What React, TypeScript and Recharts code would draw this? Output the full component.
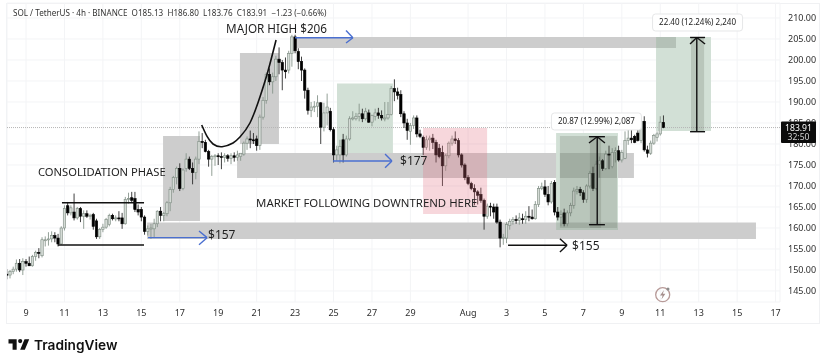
import { Bar, CartesianGrid, ComposedChart, Line, ReferenceArea, ReferenceDot, ReferenceLine, XAxis, YAxis } from 'recharts';

const FONT = '"Noto Sans", sans-serif';

// 4h candles, one row per bar: open, high, low, close
const earlyClimb = [
  [149, 150.2, 147.8, 148.8], [148.8, 150, 148, 149.6], [149.6, 150.8, 149, 150.2], [150.2, 152.5, 149.6, 151.6],
  [151.6, 152.6, 149.5, 150], [150, 152.8, 148.8, 152], [152, 152.6, 150.8, 151.6], [151.6, 153.2, 151, 151],
  [151, 153.6, 150.8, 153.2], [153.2, 154.6, 152.2, 154.2], [154.2, 155.2, 152.8, 154], [153.4, 157.8, 153, 157.2],
  [157.2, 158, 155.6, 157.2], [157.2, 159, 155.8, 157.4], [157.4, 159.2, 156.6, 158.2], [158.2, 159, 156.6, 157.6],
  [157.6, 158.6, 155.6, 156.2], [156.2, 160.4, 156, 160],
];
const consolidation = [
  [160, 165.4, 159.4, 164.6], [165.3, 166.2, 163, 163.6], [163.6, 165.4, 163, 164.8], [163.8, 168.2, 161.8, 162.4],
  [162.4, 165, 162, 164.6], [164.6, 165, 161.4, 162.8], [162.8, 164.2, 159.8, 163.4], [163.4, 164.2, 162.4, 162.8],
  [162.8, 163.4, 162, 163], [163.2, 163.6, 159.6, 160.4], [161.7, 162.2, 157.4, 157.9], [157.9, 160, 157.4, 159.6],
  [159.6, 161, 159, 160.2], [160.2, 162.4, 159.8, 162], [160.8, 163.4, 160.4, 163], [163, 163.4, 161.8, 162.2],
  [162.2, 163, 161.6, 162.4], [162.4, 164, 161.6, 162.2], [162.4, 163.6, 159.8, 161], [161, 167.4, 160.8, 166.8],
  [166.8, 168.4, 165.8, 167], [167.2, 168.6, 166, 166.6], [167, 168.6, 163.8, 164.4], [164.4, 165.6, 163, 163.8],
  [164.4, 165, 161.6, 162.6], [162.6, 163, 158.4, 159.2],
];
const rallyOne = [
  [159.2, 160.6, 158.2, 159.8], [159.8, 161, 157.4, 160], [159.8, 162.2, 157.6, 161], [161, 164.2, 160.2, 164],
  [164, 165, 161.6, 163], [163, 163.8, 161.6, 163.4], [163.4, 166.4, 162.8, 166], [166, 169.8, 164, 169.2],
  [169.2, 172.4, 168.4, 172], [172, 174.6, 170.4, 174.2], [174.2, 175.4, 168.8, 169.4], [169.4, 174.2, 169, 173.8],
  [174.2, 177.8, 173.4, 176.4], [176.4, 177, 173.8, 174.2], [174.2, 175.6, 170.4, 173.2], [173.2, 177, 171.6, 176.4],
  [176.4, 183, 175.2, 180.6], [180.6, 182.6, 179, 180.4], [180.4, 181, 178, 178.2], [178.2, 178.6, 174.6, 176.4],
];
const baseNear177 = [
  [176.4, 177.4, 172.4, 177], [177, 177.6, 174.8, 177.2], [177.2, 177.8, 175, 177], [177, 178, 174, 176.8],
  [176.8, 177.8, 175.6, 177.2], [177.2, 177.6, 175.8, 176.6], [176.6, 177.8, 175.2, 177.2], [177.2, 178, 175.8, 176.8],
  [176.8, 178.4, 176, 177.4], [177, 177.8, 176, 177.8],
];
const rallyToHigh = [
  [177.6, 180.6, 177.2, 180.2], [180.2, 181.8, 178.6, 181.2], [181.2, 183.2, 179, 181], [181, 182.6, 180, 180.8],
  [181.2, 182, 178.4, 179.6], [179.6, 187, 178.6, 186.4], [186.4, 191.2, 185.8, 190.4], [190.4, 197, 189.6, 196.6],
  [196.6, 198, 194, 194.8], [194.8, 197, 192, 196], [196, 201, 195, 200.2], [200.2, 203, 196.6, 199.4],
  [199.4, 200, 192.8, 197.6], [197.6, 200.6, 195.6, 197.2], [197.6, 202.2, 196.8, 201.6], [201.6, 206, 198.4, 205.5],
];
const dropFromHigh = [
  [205.5, 206, 201.6, 202.2], [202, 202.8, 197.8, 199.6], [199.6, 200.8, 195, 197.6], [197.6, 198, 190.8, 192.8],
  [192.8, 193.4, 187, 188], [188, 190, 186.4, 188.8], [188.8, 190.2, 187.6, 189], [189, 191.6, 186.4, 189.8],
  [189.8, 190, 180, 184], [184, 189.8, 183, 187.4], [187.4, 192, 184.4, 188.8], [187.8, 188.6, 183, 183.4],
  [183.4, 184, 175.6, 177.4],
];
const bounceRange = [
  [177.4, 179.6, 176, 178.6], [177.4, 181, 175.4, 179.4], [181, 182.4, 175.6, 177.4], [177.4, 182, 177, 181.2],
  [181.2, 186.6, 180.8, 186], [186, 187.8, 185.6, 186.2], [186, 187.4, 185.6, 186.6], [186.6, 189.6, 185.4, 187.2],
  [187.2, 188.4, 185.2, 186], [186, 188.6, 185.6, 187.8], [187.4, 188.2, 185, 185.2], [185.2, 187, 184.2, 186.8],
  [186.6, 188.4, 185.6, 187.4], [187.4, 188.6, 186, 186.8], [186.8, 188, 185.6, 186.2], [186.2, 190, 185.4, 186.2],
  [186.2, 190, 185.8, 187], [187, 193.8, 186.8, 193.2], [193.2, 195.4, 190.2, 192.4],
];
const downtrend = [
  [192.4, 193.4, 190.6, 191.6], [191.8, 192.8, 186.4, 187.2], [187.2, 187.8, 183.8, 185], [185, 186, 181, 183.2],
  [183, 185, 179.8, 184.4], [184.4, 186.8, 183.6, 186.2], [186.2, 186.8, 181.6, 182.4], [182.4, 183.4, 181.4, 181.8],
  [181.6, 182, 177.4, 179.2], [179.2, 182, 178.6, 181], [181, 182, 178.4, 181.4], [181.4, 182.4, 178.8, 180.4],
  [180.4, 181, 175.6, 177.4], [179, 180, 176.6, 177], [178, 179.6, 170, 174.8], [174.8, 177.6, 173.6, 177.2],
  [177.2, 180.6, 176.6, 180.2], [180.2, 182, 179.6, 181.2], [181.2, 183, 180, 180.8], [180.8, 181.4, 176.8, 177.4],
  [177.4, 177.8, 174.4, 175], [175, 175.4, 171.4, 172], [172, 172.6, 170.2, 170.6], [170.6, 171, 169, 169.4],
  [169.4, 170.4, 165.4, 168.6], [168.6, 169, 165.6, 167.8], [168, 169.6, 166, 166.6], [166.6, 167, 159.6, 162.8],
  [162.8, 165.8, 162.2, 165.2], [165.2, 166, 162.8, 165], [165, 165.8, 162.2, 163.8], [165, 165.8, 161, 161.4],
  [161.4, 162, 155.4, 157.6],
];
const recovery = [
  [157.6, 158.6, 156, 157.8], [157.6, 161.4, 156.4, 160.8], [160.6, 162.2, 159.6, 161.6], [161.6, 162.6, 160.8, 162],
  [162, 163, 161, 161.8], [161.8, 163.6, 160.8, 162.4], [162.2, 163.4, 161, 162], [162, 164, 161, 162.8],
  [162.8, 165.2, 161.6, 162.6], [162.6, 164.4, 162, 162.2], [162.2, 166.4, 162, 165.6], [165.6, 170, 165, 169.4],
  [169.4, 170.8, 169, 169.8], [169.8, 171.4, 167.4, 168], [168, 170, 165.4, 166.2], [166.2, 171.2, 165.8, 170.6],
  [170.8, 171.4, 163, 163.8], [163.8, 165, 161.8, 162.6], [162.6, 164.2, 160.4, 163.2], [163.6, 164.6, 160.4, 161],
  [161, 164.2, 160.4, 163.6], [163.6, 166, 162.8, 165.4], [165.4, 169.6, 164.6, 168.8], [168.8, 170, 168, 169.2],
  [169.2, 169.8, 167.6, 168.4], [168.4, 169, 166, 166.8], [166.8, 170.4, 166, 170], [170, 173.6, 169.4, 173],
  [173, 174.6, 168.8, 169.4], [169.4, 176, 169, 175.2], [175.2, 177, 172, 176], [176, 176.4, 173.6, 174.2],
  [174.2, 178.4, 173.8, 177.6], [177.6, 179.6, 174, 177.4], [174.6, 179, 174.2, 178], [178, 179.2, 175.6, 178.4],
  [178.4, 179.6, 175.8, 176.2], [176.2, 178.6, 175.6, 178], [176.6, 183, 176.4, 180.8], [180.8, 184.4, 179.8, 181.4],
  [181.4, 184, 180.2, 181], [181.8, 182.2, 180.2, 180.4], [182.6, 184.6, 180.6, 180.8], [180.8, 186.4, 180.2, 185.4],
  [185.4, 186.6, 178.2, 178.6], [178.6, 179.6, 176.8, 177.8], [177.8, 180.8, 177.4, 180.2], [180.2, 182.4, 179.8, 182],
  [181.6, 183, 180.6, 182.4], [182.4, 186.6, 182, 185.2], [185.13, 186.8, 183.76, 183.91],
];

const allCandles = [
  ...earlyClimb, ...consolidation, ...rallyOne, ...baseNear177, ...rallyToHigh,
  ...dropFromHigh, ...bounceRange, ...downtrend, ...recovery,
];

// x is a running day number: July dates as they are, Aug 1 = 32
const firstDay = 8;
const candleData = allCandles.map(([open, high, low, close], i) => ({
  day: firstDay + i / 6,
  open, high, low, close,
  range: [low, high],
}));

const dayTicks = [9, 11, 13, 15, 17, 19, 21, 23, 25, 27, 29, 32, 34, 36, 38, 40, 42, 44, 46, 48];
const priceTicks = [145, 150, 155, 160, 165, 170, 175, 180, 185, 190, 195, 200, 205, 210];
const lastPrice = 183.91;

// zones: [day from, day to, price low, price high]
const grayZones = [
  [16.13, 18.05, 161.67, 181.9],
  [20.13, 22.16, 180, 201.67],
  [22.99, 42.82, 202.86, 205.48],
  [19.98, 40.63, 171.9, 177.86],
  [15.3, 46.98, 157.4, 161.3],
];
const greenZones = [
  [25.18, 28.09, 177.86, 194.4],
  [36.58, 39.8, 159.5, 182.6],
  [41.78, 44.64, 183.1, 205.48],
];
const measureShades = [
  [36.78, 39.75, 160, 181.9],
  [38.34, 38.92, 160, 181.9],
  [43.6, 44.28, 183.1, 205.48],
];
// where a gray band runs under a green box
const overlapShades = [
  [36.78, 39.75, 171.9, 177.86],
  [41.78, 42.82, 202.86, 205.48],
  [36.58, 39.8, 159.5, 161.3],
];
const pinkZones = [[29.66, 32.99, 163.33, 183.8]];

// line segments: [day, price, day, price]
const blackSegments = [
  [10.87, 166, 15.14, 166],
  [10.66, 155.95, 15.14, 155.95],
  [34.08, 155.88, 37.15, 155.88], [36.78, 157.45, 37.15, 155.88], [36.78, 154.3, 37.15, 155.88],
  [43.9, 182.93, 43.9, 205.36], [43.55, 182.93, 44.33, 182.93], [43.55, 205.36, 44.33, 205.36],
  [43.55, 203.81, 43.9, 205.36], [44.33, 203.81, 43.9, 205.36],
  [38.72, 160.79, 38.72, 181.74], [38.29, 160.79, 39.12, 160.79], [38.29, 181.74, 39.12, 181.74],
  [38.29, 180.24, 38.72, 181.74], [39.12, 180.24, 38.72, 181.74],
];
const blueSegments = [
  [15.35, 157.7, 18.42, 157.7], [18, 159.3, 18.42, 157.7], [18, 156, 18.42, 157.7],
  [23, 205.3, 26.01, 205.3], [25.65, 207, 26.01, 205.3], [25.65, 204.05, 26.01, 205.3],
  [24.97, 175.95, 28.04, 175.95], [27.68, 177.6, 28.04, 175.95], [27.68, 174.36, 28.04, 175.95],
];
const cupDays = [18.14, 18.42, 18.73, 19.2, 19.77, 20.13, 20.65, 21.17, 21.59, 22.01];
const cupPrices = [184.52, 181.79, 180, 179.36, 180.24, 181.67, 185, 191.19, 197.38, 204.76];
const cupData = cupDays.map((day, i) => ({ day, cup: cupPrices[i] }));

// notes: text, day, price, font size
const notes: [string, number, number, number][] = [
  ['CONSOLIDATION PHASE', 9.62, 172.38, 11.2],
  ['MAJOR HIGH $206', 19.41, 206.43, 11.7],
  ['$157', 18.47, 157.38, 12],
  ['$177', 28.46, 175, 12],
  ['MARKET FOLLOWING DOWNTREND HERE', 20.97, 165, 11.4],
  ['$155', 37.41, 154.76, 12],
];
const callouts: [string, number, number][] = [
  ['22.40 (12.24%) 2,240', 43.94, 208.93],
  ['20.87 (12.99%) 2,087', 38.68, 185.36],
];

const dayLabel = (d: number) => (d === 32 ? 'Aug' : String(d > 32 ? d - 31 : d));

const Candle = (props: any) => {
  const { x, y, width, height, payload } = props;
  const { open, high, low, close } = payload;
  const up = close >= open;
  const unit = Math.abs(height) / (high - low || 1);
  const toY = (p: number) => y + (high - p) * unit;
  const mid = x + width / 2;
  const top = toY(Math.max(open, close));
  const bodyH = Math.max(toY(Math.min(open, close)) - top, 1);
  return (
    <g>
      <line x1={mid} x2={mid} y1={y} y2={y + Math.abs(height)} stroke={up ? '#87958b' : '#2a2a2a'} strokeWidth={0.9} />
      <rect x={mid - 1.2} y={top} width={2.4} height={bodyH} fill={up ? '#d5dbd6' : '#000'} stroke={up ? '#7c8a80' : '#000'} strokeWidth={0.6} />
    </g>
  );
};

export default function App() {
  return (
    <div style={{ position: 'absolute', left: 0, top: 0, width: 825, height: 364, background: '#fff', overflow: 'hidden', filter: 'blur(0.4px)' }}>
      <div style={{ position: 'absolute', left: 6, top: 3, width: 812, height: 319, border: '1px solid #f0f1f3' }} />
      <ComposedChart
        width={825}
        height={364}
        data={candleData}
        margin={{ top: 3, right: 7, bottom: 42, left: 7 }}
        style={{ position: 'absolute', left: 0, top: 0 }}
      >
        <CartesianGrid stroke="#f3f4f6" />
        <XAxis
          dataKey="day"
          type="number"
          domain={[8.01, 48.23]}
          allowDataOverflow
          ticks={dayTicks}
          tickFormatter={dayLabel}
          tick={{ fontSize: 9, fontFamily: FONT, fill: '#2e2e2e' }}
          tickLine={false}
          axisLine={false}
          height={20}
          interval={0}
        />
        <YAxis
          orientation="right"
          type="number"
          domain={[142.38, 213.57]}
          allowDataOverflow
          ticks={priceTicks}
          tickFormatter={(v: number) => v.toFixed(2)}
          tick={{ fontSize: 9, fontFamily: FONT, fill: '#2e2e2e' }}
          tickLine={false}
          axisLine={false}
          width={38}
          interval={0}
        />
        <ReferenceLine y={lastPrice} stroke="#b5b5b5" strokeDasharray="1 1" zIndex={20} />
        {grayZones.map(([x1, x2, y1, y2], i) => (
          <ReferenceArea key={`g${i}`} x1={x1} x2={x2} y1={y1} y2={y2} fill="#cdcdcd" fillOpacity={1} stroke="none" zIndex={10} />
        ))}
        {greenZones.map(([x1, x2, y1, y2], i) => (
          <ReferenceArea key={`z${i}`} x1={x1} x2={x2} y1={y1} y2={y2} fill="#d2e0d6" fillOpacity={1} stroke="none" zIndex={11} />
        ))}
        {overlapShades.map(([x1, x2, y1, y2], i) => (
          <ReferenceArea key={`o${i}`} x1={x1} x2={x2} y1={y1} y2={y2} fill="#6f7a70" fillOpacity={0.3} stroke="none" zIndex={12} />
        ))}
        <Bar dataKey="range" barSize={3} shape={Candle} isAnimationActive={false} zIndex={300} />
        {measureShades.map(([x1, x2, y1, y2], i) => (
          <ReferenceArea key={`m${i}`} x1={x1} x2={x2} y1={y1} y2={y2} fill="#56604f" fillOpacity={0.2} stroke="none" zIndex={320} />
        ))}
        {pinkZones.map(([x1, x2, y1, y2], i) => (
          <ReferenceArea key={`p${i}`} x1={x1} x2={x2} y1={y1} y2={y2} fill="#e16e82" fillOpacity={0.28} stroke="none" zIndex={320} />
        ))}
        {blackSegments.map(([a, b, c, d], i) => (
          <ReferenceLine key={`b${i}`} segment={[{ x: a, y: b }, { x: c, y: d }]} stroke="#111" strokeWidth={1.4} zIndex={400} />
        ))}
        {blueSegments.map(([a, b, c, d], i) => (
          <ReferenceLine key={`l${i}`} segment={[{ x: a, y: b }, { x: c, y: d }]} stroke="#4a6fd0" strokeWidth={1.4} zIndex={400} />
        ))}
        <Line data={cupData} dataKey="cup" type="natural" stroke="#111" strokeWidth={1.6} dot={false} isAnimationActive={false} legendType="none" />
        {notes.map(([text, x, y, size]) => (
          <ReferenceDot
            key={text}
            x={x}
            y={y}
            r={0}
            zIndex={450}
            shape={(p: any) => (
              <text x={p.cx} y={p.cy} fontSize={size} fontFamily={FONT} fill="#1f1f1f">{text}</text>
            )}
          />
        ))}
        {callouts.map(([text, x, y]) => (
          <ReferenceDot
            key={text}
            x={x}
            y={y}
            r={0}
            zIndex={450}
            shape={(p: any) => (
              <g>
                <rect x={p.cx - 45} y={p.cy - 8.5} width={90} height={17} rx={3} fill="#fff" stroke="#e6e7e8" />
                <text x={p.cx} y={p.cy + 3} fontSize={8} fontFamily={FONT} fill="#222" textAnchor="middle">{text}</text>
              </g>
            )}
          />
        ))}
        <ReferenceDot
          x={48.23}
          y={lastPrice}
          r={0}
          zIndex={2500}
          shape={(p: any) => (
            <g>
              <rect x={p.cx + 1} y={p.cy - 6} width={35} height={21.5} rx={1} fill="#0b0b0b" />
              <text x={p.cx + 18.5} y={p.cy + 3} fontSize={8.6} fontFamily={FONT} fill="#fff" textAnchor="middle">183.91</text>
              <text x={p.cx + 18.5} y={p.cy + 12.5} fontSize={8.6} fontFamily={FONT} fill="#d0d0d0" textAnchor="middle">32:50</text>
            </g>
          )}
        />
      </ComposedChart>
      <div style={{ position: 'absolute', left: 13, top: 7, fontFamily: FONT, fontSize: 8.1, color: '#333', whiteSpace: 'pre' }}>
        SOL / TetherUS · 4h · BINANCE  O185.13  H186.80  L183.76  C183.91  −1.23 (−0.66%)
      </div>
      <svg width={18} height={18} viewBox="0 0 18 18" style={{ position: 'absolute', left: 654, top: 286 }}>
        <circle cx={8.7} cy={8.7} r={7} fill="none" stroke="#b79a98" strokeWidth={1.3} />
        <path d="M10 4 L6 9.5 H8.6 L7.4 13.4 L11.4 7.8 H8.8 Z" fill="#a58f8d" />
        <circle cx={14} cy={3} r={1.5} fill="#8b8b8b" />
      </svg>
      <svg width={24} height={14} viewBox="0 0 36 24" style={{ position: 'absolute', left: 7, top: 337 }}>
        <path d="M14 22H7V11H0V4h14v18zM28 22h-8l7.5-18h8L28 22z" fill="#111" />
        <circle cx={20} cy={7} r={3.6} fill="#111" />
      </svg>
      <div style={{ position: 'absolute', left: 34, top: 335, fontFamily: 'Inter, sans-serif', fontWeight: 600, fontSize: 13.7, color: '#111', lineHeight: '20px' }}>
        TradingView
      </div>
    </div>
  );
}
